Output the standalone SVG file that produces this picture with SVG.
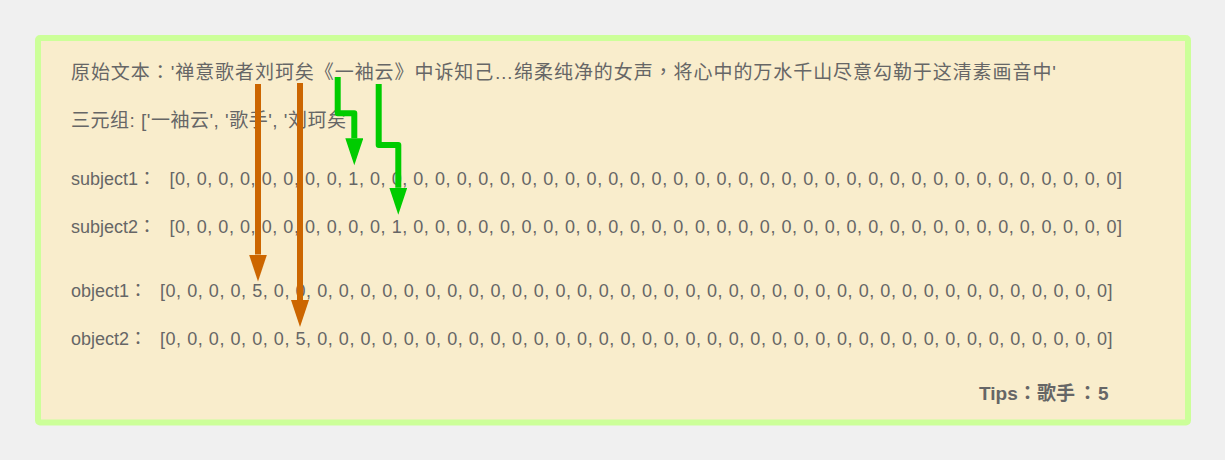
<svg xmlns="http://www.w3.org/2000/svg" width="1225" height="460" viewBox="0 0 1225 460">
  <style>
    .t { font-family: "Liberation Sans", "Noto Sans CJK SC", sans-serif; fill: #666666; }
    .p { font-family: "Noto Sans CJK TC", sans-serif; }
    .cjk { font-size: 19px; }
    .row { font-size: 18px; }
    .tips { font-size: 19px; font-weight: bold; }
    .orange { fill: none; stroke: #cc6600; stroke-width: 6; }
    .green { fill: none; stroke: #00cc00; stroke-width: 6; stroke-linejoin: round; }
  </style>
  <defs>
    <marker id="headOrange" markerUnits="userSpaceOnUse" markerWidth="28" markerHeight="18" refX="0" refY="9" orient="auto">
      <path d="M0,0 L27,9 L0,18 z" fill="#cc6600"/>
    </marker>
    <marker id="headGreen" markerUnits="userSpaceOnUse" markerWidth="28" markerHeight="18" refX="0" refY="9" orient="auto">
      <path d="M0,0 L27,9 L0,18 z" fill="#00cc00"/>
    </marker>
  </defs>
  <rect x="0" y="0" width="1225" height="460" fill="#f0f0f0"/>
  <g id="panel">
    <rect x="38" y="38" width="1150" height="384.5" rx="2" fill="#f9edcc" stroke="#ccff99" stroke-width="6"/>
  </g>
  <g id="text-original">
    <text class="t cjk" x="71" y="79" textLength="985" lengthAdjust="spacing">原始文本<tspan class="p">：</tspan>'禅意歌者刘珂矣《一袖云》中诉知己…绵柔纯净的女声<tspan class="p">，</tspan>将心中的万水千山尽意勾勒于这清素画音中'</text>
  </g>
  <g id="text-triple">
    <text class="t cjk" x="71" y="127" textLength="275" lengthAdjust="spacing">三元组: ['一袖云', '歌手', '刘珂矣</text>
  </g>
  <g id="row-subject1">
    <text class="t row" x="71" y="184.5">subject1<tspan class="p">：</tspan></text>
    <text class="t row" x="169.5" y="184.5" textLength="952.5" lengthAdjust="spacing">[0, 0, 0, 0, 0, 0, 0, 0, 1, 0, 0, 0, 0, 0, 0, 0, 0, 0, 0, 0, 0, 0, 0, 0, 0, 0, 0, 0, 0, 0, 0, 0, 0, 0, 0, 0, 0, 0, 0, 0, 0, 0, 0, 0]</text>
  </g>
  <g id="row-subject2">
    <text class="t row" x="71" y="232.5">subject2<tspan class="p">：</tspan></text>
    <text class="t row" x="169.5" y="232.5" textLength="952.5" lengthAdjust="spacing">[0, 0, 0, 0, 0, 0, 0, 0, 0, 0, 1, 0, 0, 0, 0, 0, 0, 0, 0, 0, 0, 0, 0, 0, 0, 0, 0, 0, 0, 0, 0, 0, 0, 0, 0, 0, 0, 0, 0, 0, 0, 0, 0, 0]</text>
  </g>
  <g id="row-object1">
    <text class="t row" x="71" y="296.5">object1<tspan class="p">：</tspan></text>
    <text class="t row" x="160" y="296.5" textLength="952.5" lengthAdjust="spacing">[0, 0, 0, 0, 5, 0, 0, 0, 0, 0, 0, 0, 0, 0, 0, 0, 0, 0, 0, 0, 0, 0, 0, 0, 0, 0, 0, 0, 0, 0, 0, 0, 0, 0, 0, 0, 0, 0, 0, 0, 0, 0, 0, 0]</text>
  </g>
  <g id="row-object2">
    <text class="t row" x="71" y="344.5">object2<tspan class="p">：</tspan></text>
    <text class="t row" x="160" y="344.5" textLength="952.5" lengthAdjust="spacing">[0, 0, 0, 0, 0, 0, 5, 0, 0, 0, 0, 0, 0, 0, 0, 0, 0, 0, 0, 0, 0, 0, 0, 0, 0, 0, 0, 0, 0, 0, 0, 0, 0, 0, 0, 0, 0, 0, 0, 0, 0, 0, 0, 0]</text>
  </g>
  <g id="tips">
    <text class="t tips" y="399.5"><tspan x="979">Tips</tspan><tspan class="p" x="1018">：</tspan><tspan x="1037">歌手</tspan><tspan class="p" x="1078">：</tspan><tspan x="1098">5</tspan></text>
  </g>
  <g id="connectors">
    <path class="orange" d="M258,84 V254.5" marker-end="url(#headOrange)"/>
    <path class="orange" d="M300,83 V300" marker-end="url(#headOrange)"/>
    <path class="green" d="M337.7,77 V113.3 H354.3 V138.3" marker-end="url(#headGreen)"/>
    <path class="green" d="M378.7,84 V145 H398.3 V187.7" marker-end="url(#headGreen)"/>
  </g>
</svg>
